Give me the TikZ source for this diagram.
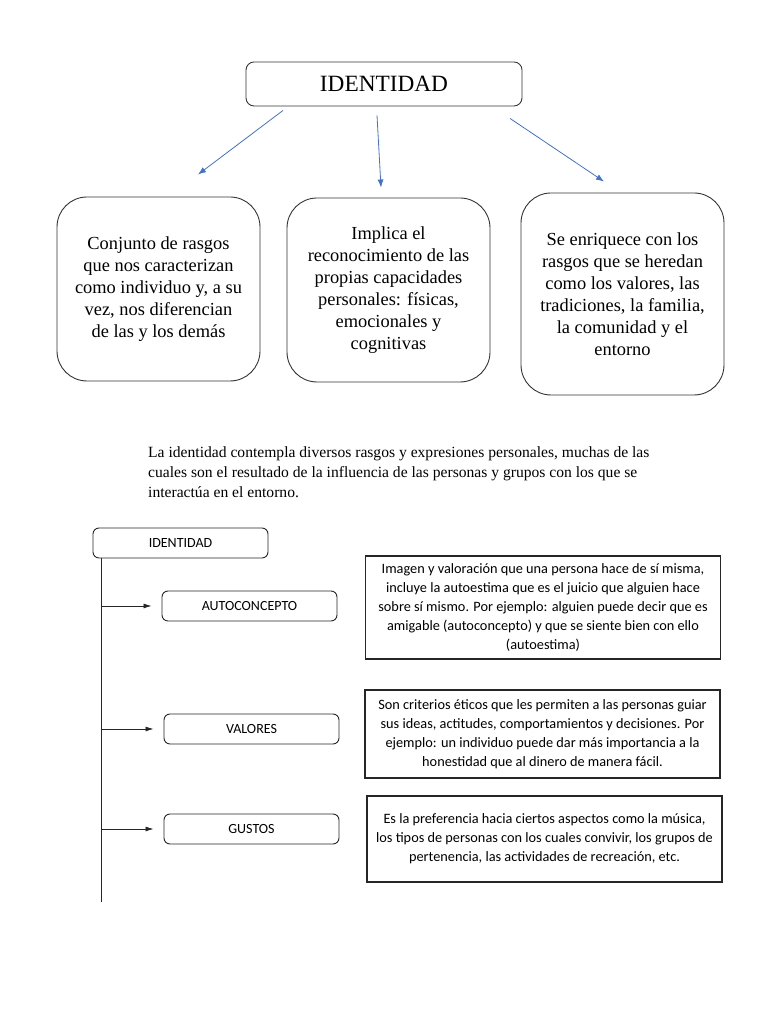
\documentclass[tikz,border=0pt]{standalone}
\usepackage{fontspec}
\usepackage{xcolor}
\usetikzlibrary{arrows.meta}
\setmainfont{Liberation Serif}
\newfontfamily\calfont{Carlito}
\definecolor{arrowblue}{HTML}{4472C4}

\tikzset{
  titlebox/.style={draw=black!80, line width=0.9pt, rounded corners=8pt, minimum width=276pt, minimum height=44pt, font=\fontsize{23.3}{27}\selectfont},
  bigbox/.style={draw=black!80, line width=0.9pt, rounded corners=30pt, minimum width=203pt, align=center, font=\fontsize{18.4}{22}\selectfont},
  smallbox/.style={draw=black!85, line width=0.9pt, rounded corners=6pt, minimum width=175pt, minimum height=30pt, font=\calfont\fontsize{14}{16}\selectfont},
  descbox/.style={draw=black!85, line width=1.3pt, minimum width=355pt, align=center, font=\calfont\fontsize{14.3}{19}\selectfont},
  bluearrow/.style={draw=arrowblue, line width=0.8pt, -{Latex[length=8pt,width=6pt]}},
  blackarrow/.style={draw=black!85, line width=0.8pt, -{Latex[length=8pt,width=5pt]}, shorten >=10pt}
}

\begin{document}
\begin{tikzpicture}[x=1pt, y=1pt]
  % page frame
  \useasboundingbox (0,0) rectangle (768,1024);

  % upper map
  \node[titlebox] (top) at (384,940) {IDENTIDAD};
  \node[bigbox, minimum height=184pt] (c1) at (158.5,735) {Conjunto de rasgos\\que nos caracterizan\\como individuo y, a su\\vez, nos diferencian\\de las y los demás};
  \node[bigbox, minimum height=184pt] (c2) at (388.5,734) {Implica el\\reconocimiento de las\\propias capacidades\\personales: físicas,\\emocionales y\\cognitivas};
  \node[bigbox, minimum height=202pt] (c3) at (622.5,730) {Se enriquece con los\\rasgos que se heredan\\como los valores, las\\tradiciones, la familia,\\la comunidad y el\\entorno};

  \draw[bluearrow] ([xshift=-101pt,yshift=-4pt]top.south) -- ([xshift=39.5pt,yshift=22pt]c1.north);
  \draw[bluearrow] ([xshift=-7pt,yshift=-9pt]top.south) -- ([xshift=-7.5pt,yshift=10pt]c2.north);
  \draw[bluearrow] ([xshift=126pt,yshift=-12pt]top.south) -- ([xshift=-18.5pt,yshift=11pt]c3.north);

  % paragraph
  \node[anchor=north west, inner sep=0pt, align=left, font=\fontsize{15.6}{20}\selectfont] (para) at (148,578)
    {La identidad contempla diversos rasgos y expresiones personales, muchas de las\\cuales son el resultado de la influencia de las personas y grupos con los que se\\interactúa en el entorno.};

  % lower map
  \node[smallbox] (id2) at (180.5,481) {IDENTIDAD};
  \node[smallbox] (auto) at (249.5,418) {AUTOCONCEPTO};
  \node[smallbox] (val) at (251.5,295) {VALORES};
  \node[smallbox] (gus) at (251.5,195) {GUSTOS};

  \coordinate (trunkend) at (101,122);
  \coordinate (b1) at (101,418);
  \coordinate (b2) at (101,295);
  \coordinate (b3) at (101,195);
  \draw[line width=0.9pt, black!85] (id2.south -| trunkend) -- (trunkend);
  \draw[blackarrow] (b1) -- (auto);
  \draw[blackarrow] (b2) -- (val);
  \draw[blackarrow] (b3) -- (gus);

  \node[descbox, minimum height=103pt] (d1) at (543,416.5) {Imagen y valoración que una persona hace de sí misma,\\incluye la autoestima que es el juicio que alguien hace\\sobre sí mismo. Por ejemplo: alguien puede decir que es\\amigable (autoconcepto) y que se siente bien con ello\\(autoestima)};
  \node[descbox, minimum height=88pt] (d2) at (542.5,290) {Son criterios éticos que les permiten a las personas guiar\\sus ideas, actitudes, comportamientos y decisiones. Por\\ejemplo: un individuo puede dar más importancia a la\\honestidad que al dinero de manera fácil.};
  \node[descbox, minimum height=86pt] (d3) at (544.5,185) {Es la preferencia hacia ciertos aspectos como la música,\\los tipos de personas con los cuales convivir, los grupos de\\pertenencia, las actividades de recreación, etc.};
\end{tikzpicture}
\end{document}
